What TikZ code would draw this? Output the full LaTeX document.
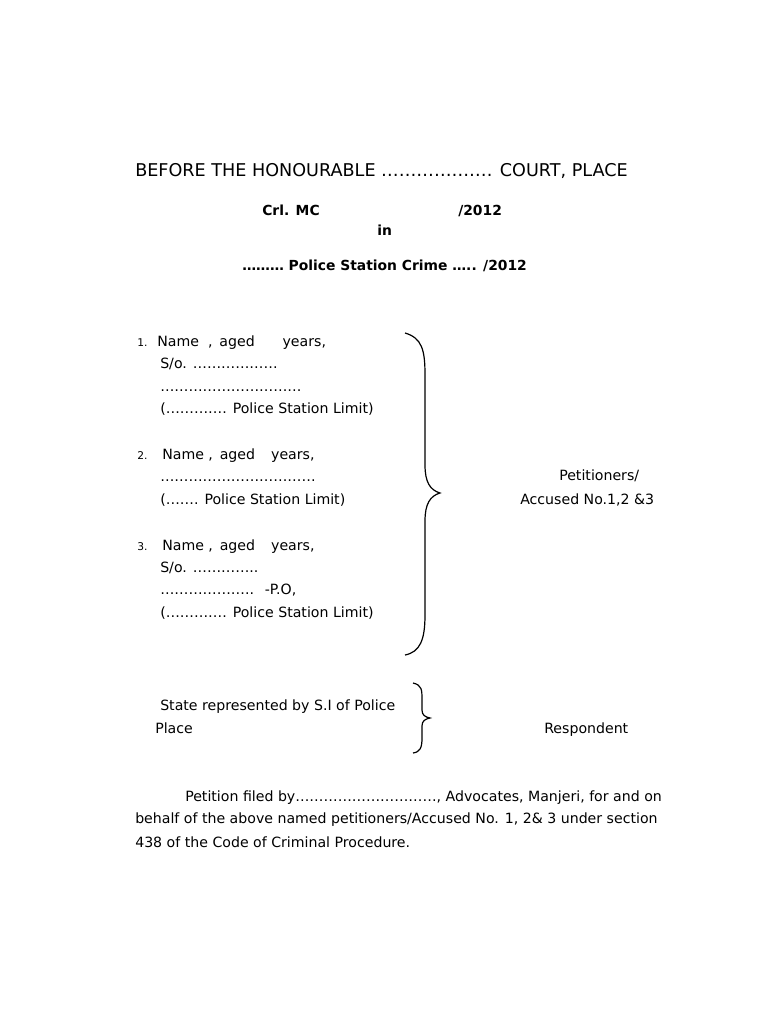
\documentclass[tikz,border=0pt]{standalone}
\usepackage{fontspec}
\setmainfont{DejaVu Sans}
\begin{document}
\begin{tikzpicture}[x=0.75pt,y=-0.75pt]
\tikzset{txt/.style={anchor=base west,inner sep=0pt,font=\fontsize{10.6}{12}\selectfont},
 bd/.style={txt,font=\fontsize{10.4}{12}\selectfont\bfseries},
 num/.style={txt,font=\fontsize{8}{10}\selectfont}}
\useasboundingbox (0,0) rectangle (768,1024);
\node[txt,font=\fontsize{13.2}{15}\selectfont] (title) at (135,176) {BEFORE THE HONOURABLE ………………. COURT, PLACE};
\node[bd] (crl) at (262,215) {Crl. MC};
\node[bd] (yr) at (458,215) {/2012};
\node[bd] (in) at (377,235) {in};
\node[bd] (ps) at (242,270) {……… Police Station Crime ….. /2012};
% petitioners
\node[num] (n1) at (137,346) {1.};
\node[txt] (a1) at (157,346) {Name\,\, , \,aged \quad\,\, years,};
\node[txt] (a2) at (160,368) {S/o. ………………};
\node[txt] (a3) at (160,391) {…………………………};
\node[txt] (a4) at (160,413) {(…………. Police Station Limit)};
\node[num] (n2) at (137,459) {2.};
\node[txt] (b1) at (162,459) {Name , \,aged \,\,\, years,};
\node[txt] (b2) at (160,481) {……………………………};
\node[txt] (b3) at (160,504) {(……. Police Station Limit)};
\node[num] (n3) at (137,550) {3.};
\node[txt] (c1) at (162,550) {Name , \,aged \,\,\, years,};
\node[txt] (c2) at (160,572) {S/o. …………..};
\node[txt] (c3) at (160,594) {……………….. \,\,-P.O,};
\node[txt] (c4) at (160,617) {(…………. Police Station Limit)};
\draw[line width=0.9pt] (405,333) .. controls (422,338) and (425,350) .. (425,375)
 -- (425,465) .. controls (425,482) and (430,490) .. (440,493)
 .. controls (430,496) and (425,504) .. (425,521) -- (425,615)
 .. controls (425,640) and (420,652) .. (405,655);
\node[txt] (pet) at (559,480) {Petitioners/};
\node[txt] (acc) at (520,504) {Accused No.1,2 \&3};
% respondent
\node[txt] (s1) at (160,710) {State represented by S.I of Police};
\node[txt] (s2) at (155,733) {Place};
\draw[line width=0.9pt] (413,683) .. controls (422,685) and (422,690) .. (422,700)
 -- (422,710) .. controls (422,715) and (425,717) .. (430,718)
 .. controls (425,719) and (422,721) .. (422,726) -- (422,738)
 .. controls (422,748) and (420,752) .. (413,753);
\node[txt] (resp) at (544,733) {Respondent};
% petition
\node[txt] (p1) at (185,801) {Petition filed by…………………………, Advocates, Manjeri, for and on};
\node[txt] (p2) at (135,823) {behalf of the above named petitioners/Accused No. 1, 2\& 3 under section};
\node[txt] (p3) at (135,847) {438 of the Code of Criminal Procedure.};
\end{tikzpicture}
\end{document}
